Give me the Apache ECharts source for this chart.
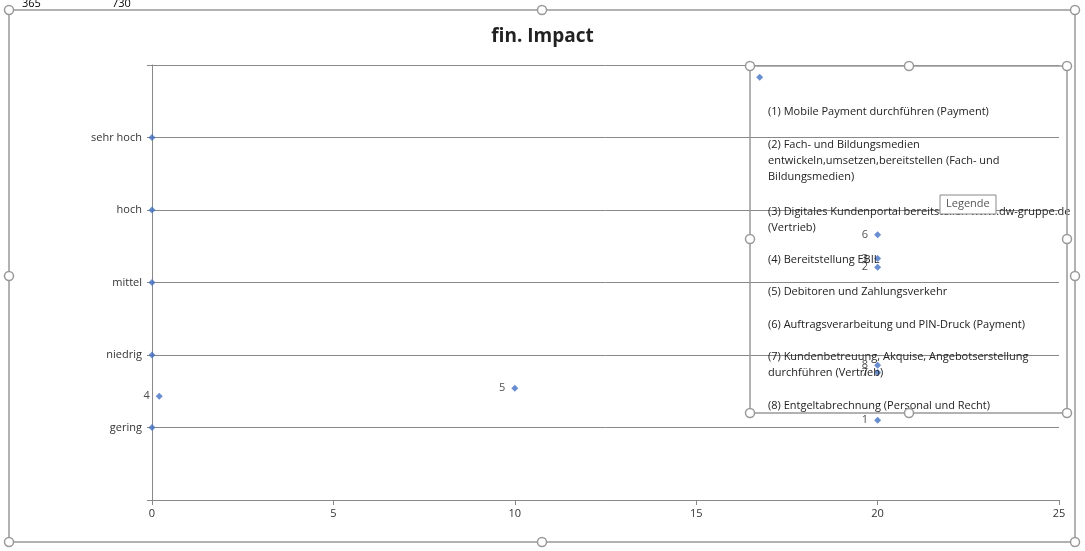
<!DOCTYPE html>
<html><head><meta charset="utf-8">
<script src="https://cdn.jsdelivr.net/npm/echarts@6/dist/echarts.min.js"></script>
<style>html,body{margin:0;padding:0;background:#fff}#c{width:1085px;height:551px}</style>
</head><body><div id="c"></div>
<script>
const levelNames = ['', 'gering', 'niedrig', 'mittel', 'hoch', 'sehr hoch', ''];
const levelPoints = [[0,1],[0,2],[0,3],[0,4],[0,5]];
const pointLabels = ['1','2','3','4','5','6','7','8'];
const pointX = [20, 20, 20, 0.2, 10, 20, 20, 20];
const pointY = [1.1, 3.21, 3.33, 1.43, 1.54, 3.66, 1.76, 1.86];
const legendMarker = [[16.75, 5.83]];
const legendItems = [
  '(1) Mobile Payment durchführen (Payment)',
  '(2) Fach- und Bildungsmedien\nentwickeln,umsetzen,bereitstellen (Fach- und\nBildungsmedien)',
  '(3) Digitales Kundenportal bereitstellen www.dw-gruppe.de\n(Vertrieb)',
  '(4) Bereitstellung EBIL',
  '(5) Debitoren und Zahlungsverkehr',
  '(6) Auftragsverarbeitung und PIN-Druck (Payment)',
  '(7) Kundenbetreuung, Akquise, Angebotserstellung\ndurchführen (Vertrieb)',
  '(8) Entgeltabrechnung (Personal und Recht)'
];
const legendTop = [104, 137, 204, 252, 284, 317, 349, 398];

const F = '"Open Sans", "Noto Sans", sans-serif';
const chart = echarts.init(document.getElementById('c'));
const mk = {symbol:'diamond', symbolSize:7, itemStyle:{color:'#4472C4'}};
const handles = [];
function handle(x,y){handles.push({type:'circle',shape:{cx:x,cy:y,r:4.5},style:{fill:'#fff',stroke:'#999',lineWidth:1.5},z:100});}
[[9,10],[542,10],[1075,10],[9,276],[1075,276],[9,542],[542,542],[1075,542]].forEach(p=>handle(p[0],p[1]));
[[750,66],[909,66],[1067,66],[750,239],[1067,239],[750,413],[909,413],[1067,413]].forEach(p=>handle(p[0],p[1]));
const gfx = [
  {type:'rect',shape:{x:9,y:10,width:1066,height:532},style:{fill:'none',stroke:'#999',lineWidth:1.5},z:99},
  {type:'rect',shape:{x:750,y:66,width:317,height:347},style:{fill:'none',stroke:'#999',lineWidth:1.5},z:99},
  {type:'text',left:22,top:-2,style:{text:'365',font:'11px '+F,fill:'#000'}},
  {type:'text',left:112,top:-2,style:{text:'730',font:'11px '+F,fill:'#000'}},
  {type:'rect',shape:{x:940,y:195,width:56,height:19},style:{fill:'#fff',stroke:'#888',lineWidth:1},z:102},
  {type:'text',left:946,top:198,style:{text:'Legende',font:'11px '+F,fill:'#555'},z:103}
].concat(legendItems.map((t,i)=>({type:'text',left:768,top:legendTop[i],style:{text:t,font:'11px '+F,fill:'#222',lineHeight:16},z:98}))).concat(handles);

chart.setOption({
  animation:false,
  title:{text:'fin. Impact',left:'center',top:22,textStyle:{fontFamily:F,fontSize:19,fontWeight:'bold',color:'#222'}},
  grid:{left:152,right:26,top:65,bottom:51},
  xAxis:{type:'value',min:0,max:25,interval:5,
    axisLine:{lineStyle:{color:'#888'}},axisTick:{show:true,lineStyle:{color:'#888'}},
    axisLabel:{fontFamily:F,fontSize:11,color:'#333'},splitLine:{show:false}},
  yAxis:{type:'value',min:0,max:6,interval:1,
    axisLine:{show:true,lineStyle:{color:'#888'}},axisTick:{show:true,inside:false,length:5,lineStyle:{color:'#888'}},
    axisLabel:{fontFamily:F,fontSize:11,color:'#333',margin:10,formatter:v=>levelNames[v]||''},
    splitLine:{show:true,lineStyle:{color:'#888',width:1}}},
  series:[
    Object.assign({type:'scatter',data:levelPoints},mk),
    Object.assign({type:'scatter',data:legendMarker},mk),
    Object.assign({type:'scatter',data:pointX.map((x,i)=>({value:[x,pointY[i]],name:pointLabels[i]})),
      label:{show:true,position:'left',distance:6,formatter:p=>p.name,fontFamily:F,fontSize:11,color:'#222'}},mk)
  ],
  graphic:gfx
});
</script></body></html>
